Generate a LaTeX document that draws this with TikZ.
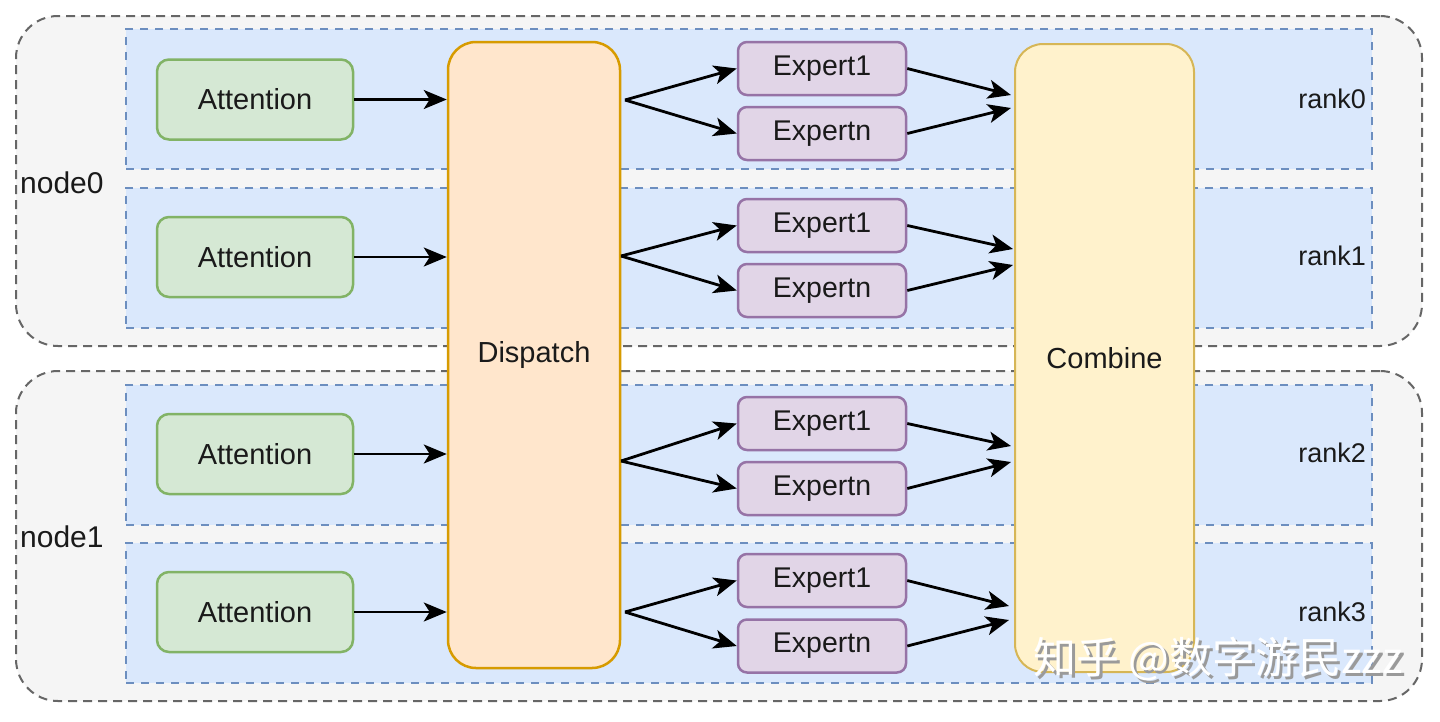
\documentclass[tikz,border=0pt]{standalone}
\usepackage{fontspec}
\setmainfont{Liberation Sans}
\newfontfamily\cjkfont{Noto Sans CJK SC}
\usetikzlibrary{arrows.meta}
\definecolor{grpfill}{HTML}{F5F5F5}
\definecolor{grpline}{HTML}{666666}
\definecolor{rankfill}{HTML}{DAE8FC}
\definecolor{rankline}{HTML}{6C8EBF}
\definecolor{attfill}{HTML}{D5E8D4}
\definecolor{attline}{HTML}{82B366}
\definecolor{dispfill}{HTML}{FFE6CC}
\definecolor{displine}{HTML}{D79B00}
\definecolor{combfill}{HTML}{FFF2CC}
\definecolor{combline}{HTML}{D6B656}
\definecolor{expfill}{HTML}{E1D5E7}
\definecolor{expline}{HTML}{9673A6}
\definecolor{txt}{HTML}{1A1A1A}
\definecolor{wmshadow}{HTML}{9A9A9A}
\tikzset{
  group/.style={draw=grpline, fill=grpfill, line width=2pt, dash pattern=on 9pt off 6pt,
    rounded corners=42pt, minimum width=1406pt, minimum height=330pt, inner sep=0pt},
  rankbox/.style={draw=rankline, fill=rankfill, line width=2pt, dash pattern=on 8pt off 7pt,
    minimum width=1246pt, minimum height=140pt, inner sep=0pt},
  attbox/.style={draw=attline, fill=attfill, line width=2.5pt, rounded corners=12pt,
    minimum width=196pt, minimum height=80pt, inner sep=0pt, text=txt,
    font=\fontsize{29}{34}\selectfont},
  expbox/.style={draw=expline, fill=expfill, line width=2.5pt, rounded corners=9pt,
    minimum width=168pt, minimum height=53pt, inner sep=0pt, text=txt,
    font=\fontsize{28.5}{32}\selectfont},
  bigbox/.style={line width=2.5pt, rounded corners=28pt, inner sep=0pt, text=txt,
    font=\fontsize{29}{34}\selectfont},
  lbl/.style={inner sep=0pt, text=txt, font=\fontsize{27}{32}\selectfont},
  grplbl/.style={inner sep=0pt, text=txt, font=\fontsize{30}{34}\selectfont},
  arr/.style={line width=2.8pt, draw=black, -{Stealth[length=23pt, width=19pt, inset=6pt]}},
}
\newcommand{\wmtext}{知乎 @数字游民zzz}
\begin{document}
\begin{tikzpicture}[x=1pt, y=-1pt]
\useasboundingbox[fill=white] (0,0) rectangle (1440,721);
% groups
\node[group] (n0) at (719,181) {};
\node[group] (n1) at (719,536) {};
% ranks
\node[rankbox] (r0) at (749,99) {};
\node[rankbox] (r1) at (749,257.5) {};
\node[rankbox] (r2) at (749,454.5) {};
\node[rankbox] (r3) at (749,613) {};
% group labels
\node[grplbl, anchor=west] (l0) at (20,183) {node0};
\node[grplbl, anchor=west] (l1) at (20,537) {node1};
% rank labels
\node[lbl, anchor=east] (k0) at (1366,99) {rank0};
\node[lbl, anchor=east] (k1) at (1366,256) {rank1};
\node[lbl, anchor=east] (k2) at (1366,453) {rank2};
\node[lbl, anchor=east] (k3) at (1366,612) {rank3};
% dispatch / combine
\node[bigbox, draw=displine, fill=dispfill, minimum width=172pt, minimum height=626pt] (D) at (534,355) {Dispatch};
\node[bigbox, draw=combline, fill=combfill, line width=2pt, minimum width=179pt, minimum height=628pt] (C) at (1104.5,358) {Combine};
% attention
\node[attbox] (a0) at (255,99.5) {Attention};
\node[attbox] (a1) at (255,257) {Attention};
\node[attbox] (a2) at (255,454) {Attention};
\node[attbox] (a3) at (255,612) {Attention};
% experts
\node[expbox] (e01) at (822,68.5) {Expert1};
\node[expbox] (e0n) at (822,133.5) {Expertn};
\node[expbox] (e11) at (822,225.5) {Expert1};
\node[expbox] (e1n) at (822,290.5) {Expertn};
\node[expbox] (e21) at (822,423.5) {Expert1};
\node[expbox] (e2n) at (822,488.5) {Expertn};
\node[expbox] (e31) at (822,580.5) {Expert1};
\node[expbox] (e3n) at (822,646) {Expertn};
% fan-out points on Dispatch
\coordinate (f0) at (625,100);
\coordinate (f1) at (621,256);
\coordinate (f2) at (621,461);
\coordinate (f3) at (625,612);
% entry points on Combine
\coordinate (c01) at (1011,95);
\coordinate (c0n) at (1011,108);
\coordinate (c11) at (1013,249);
\coordinate (c1n) at (1013,265);
\coordinate (c21) at (1011,446);
\coordinate (c2n) at (1011,462);
\coordinate (c31) at (1009,606);
\coordinate (c3n) at (1009,620);
% attention -> dispatch
\draw[arr] (a0.east) -- (D.west |- a0.east);
\draw[arr] (a1.east) -- (D.west |- a1.east);
\draw[arr] (a2.east) -- (D.west |- a2.east);
\draw[arr] (a3.east) -- (D.west |- a3.east);
% dispatch -> experts
\draw[arr] (f0) -- (e01.west);
\draw[arr] (f0) -- (e0n.west);
\draw[arr] (f1) -- (e11.west);
\draw[arr] (f1) -- (e1n.west);
\draw[arr] (f2) -- (e21.west);
\draw[arr] (f2) -- (e2n.west);
\draw[arr] (f3) -- (e31.west);
\draw[arr] (f3) -- (e3n.west);
% experts -> combine
\draw[arr] (e01.east) -- (c01);
\draw[arr] (e0n.east) -- (c0n);
\draw[arr] (e11.east) -- (c11);
\draw[arr] (e1n.east) -- (c1n);
\draw[arr] (e21.east) -- (c21);
\draw[arr] (e2n.east) -- (c2n);
\draw[arr] (e31.east) -- (c31);
\draw[arr] (e3n.east) -- (c3n);
% watermark (white text with grey shadow, one node)
\node[anchor=west, inner sep=0pt, font=\cjkfont\fontsize{43}{46}\selectfont] (wm) at (1033,660)
  {\makebox[0pt][l]{\hspace{3pt}\raisebox{-3pt}{\textcolor{wmshadow}{\wmtext}}}\textcolor{white}{\wmtext}};
\end{tikzpicture}
\end{document}
